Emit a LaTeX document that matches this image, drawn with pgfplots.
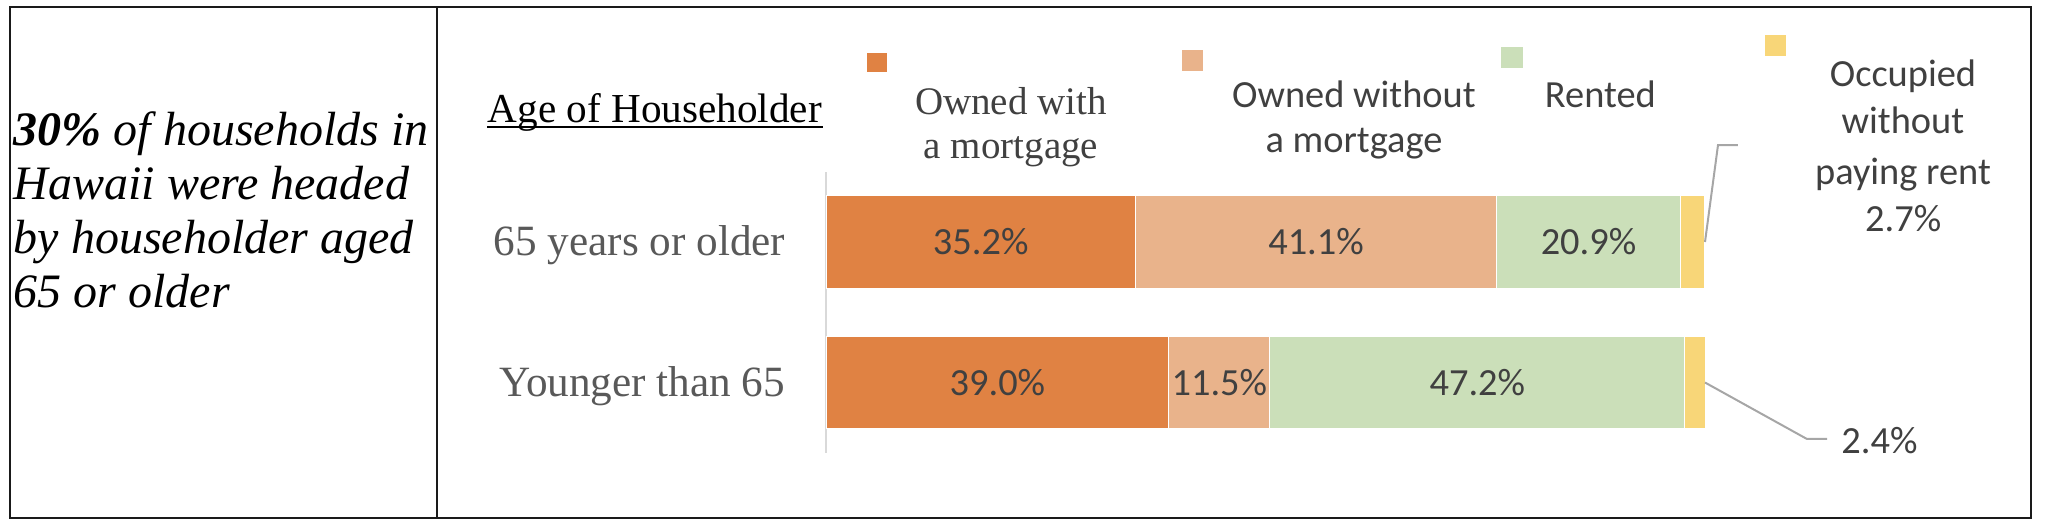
\documentclass[border=0pt]{standalone}
\usepackage{pgfplots}
\pgfplotsset{compat=1.18}
\usepackage{pgfplotstable}
\usepackage{fontspec}
\setmainfont{Liberation Serif}
\newfontfamily\carlito{Carlito}
\definecolor{cOwnM}{HTML}{E08243}
\definecolor{cOwnN}{HTML}{E9B38B}
\definecolor{cRent}{HTML}{CBDFB9}
\definecolor{cOcc}{HTML}{F8D678}
\definecolor{lblgray}{HTML}{404040}
\definecolor{tickgray}{HTML}{595959}
\definecolor{callgray}{HTML}{A6A6A6}
\definecolor{framec}{HTML}{1A1A1A}

\pgfplotstableread{
cat OwnM OwnN Rent Occ
0 39.0 11.5 47.2 2.4
1 35.2 41.1 20.9 2.7
}\datatab

\pgfplotstableread{
x y v
17.6 1 35.2
55.75 1 41.1
86.75 1 20.9
19.5 0 39.0
44.75 0 11.5
74.1 0 47.2
122.55 1.164 2.7
119.85 -0.416 2.4
}\labtab

\begin{document}
\begin{tikzpicture}
\path[use as bounding box] (0,0) rectangle (512pt,-132.25pt);
% frame
\draw[framec, line width=0.7pt] (2.5pt,-1.75pt) rectangle (507.75pt,-129.5pt);
\draw[framec, line width=0.7pt] (109.25pt,-1.75pt) -- (109.25pt,-129.5pt);
% left text
\begin{scope}[every node/.style={anchor=base west, inner sep=0pt, font=\fontsize{12}{13}\selectfont\itshape}]
\node at (3.25pt,-36.4pt) {\textbf{30\%} of households in};
\node at (3.25pt,-49.9pt) {Hawaii were headed};
\node at (3.25pt,-63.4pt) {by householder aged};
\node at (3.25pt,-76.9pt) {65 or older};
\end{scope}
% title of categories
\node[anchor=base west, inner sep=0pt, font=\fontsize{10.3}{12}\selectfont] (ah) at (121.75pt,-30.5pt) {Age of Householder};
\draw[black, line width=0.45pt] ([yshift=-1.3pt]ah.base west) -- ([yshift=-1.3pt]ah.base east);
% legend swatches
\fill[cOwnM] (216.75pt,-13.25pt) rectangle (221.75pt,-18pt);
\fill[cOwnN] (295.5pt,-12.5pt) rectangle (300.75pt,-17.75pt);
\fill[cRent] (375.25pt,-11.75pt) rectangle (380.75pt,-17pt);
\fill[cOcc] (441.25pt,-8.75pt) rectangle (446.5pt,-14pt);
% legend texts
\begin{scope}[every node/.style={anchor=base, inner sep=0pt, text=lblgray}]
\node[font=\fontsize{9.75}{11}\selectfont] at (252.75pt,-28.5pt) {Owned with};
\node[font=\fontsize{9.75}{11}\selectfont] at (252.75pt,-39.5pt) {a mortgage};
\node[font=\carlito\fontsize{9.6}{11}\selectfont] at (338.5pt,-26.75pt) {Owned without};
\node[font=\carlito\fontsize{9.6}{11}\selectfont] at (338.5pt,-38pt) {a mortgage};
\node[font=\carlito\fontsize{9.6}{11}\selectfont] at (400.1pt,-26.75pt) {Rented};
\node[font=\carlito\fontsize{9.6}{11}\selectfont] at (475.75pt,-21.5pt) {Occupied};
\node[font=\carlito\fontsize{9.6}{11}\selectfont] at (475.75pt,-33.25pt) {without};
\node[font=\carlito\fontsize{9.6}{11}\selectfont] at (475.75pt,-46pt) {paying rent};
\end{scope}

\begin{axis}[
  at={(206.5pt,-113.1875pt)}, anchor=south west,
  scale only axis, width=219.75pt, height=70.25pt,
  xmin=0, xmax=100, ymin=-0.5, ymax=1.5,
  xbar stacked, bar width=23.125pt,
  axis x line=none, axis y line*=left,
  y axis line style={draw=black!15, line width=0.5pt},
  ytick={0,1}, yticklabels={Younger than 65,65 years or older},
  major tick length=0pt,
  yticklabel style={font=\fontsize{10.8}{12}\selectfont, text=tickgray, anchor=base east, inner sep=0pt, xshift=-10pt, yshift=-3.4pt},
  clip=false,
]
\addplot[fill=cOwnM, draw=white, line width=0.2pt] table[x=OwnM, y=cat] {\datatab};
\addplot[fill=cOwnN, draw=white, line width=0.2pt] table[x=OwnN, y=cat] {\datatab};
\addplot[fill=cRent, draw=white, line width=0.2pt] table[x=Rent, y=cat] {\datatab};
\addplot[fill=cOcc, draw=white, line width=0.2pt] table[x=Occ, y=cat] {\datatab};
\end{axis}

\begin{axis}[
  at={(206.5pt,-113.1875pt)}, anchor=south west,
  scale only axis, width=219.75pt, height=70.25pt,
  xmin=0, xmax=100, ymin=-0.5, ymax=1.5,
  hide axis, clip=false,
]
\addplot[callgray, line width=0.5pt, mark=none] coordinates {(100,1) (101.48,1.69) (103.75,1.69)};
\addplot[callgray, line width=0.5pt, mark=none] coordinates {(100,0) (111.6,-0.402) (113.88,-0.402)};
\addplot[only marks, mark=none, point meta=explicit,
  nodes near coords={\pgfmathprintnumber[fixed, fixed zerofill, precision=1, assume math mode=true]{\pgfplotspointmeta}\%},
  every node near coord/.append style={anchor=center, font=\carlito\fontsize{9.6}{11}\selectfont, text=lblgray, inner sep=0pt}]
  table[x=x, y=y, meta=v] {\labtab};
\end{axis}
\end{tikzpicture}
\end{document}
